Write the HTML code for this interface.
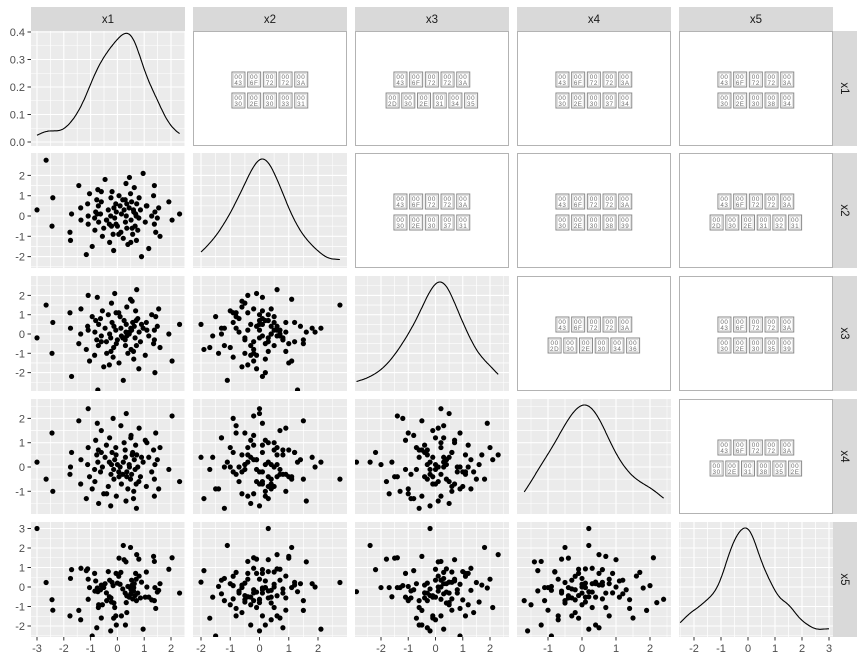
<!DOCTYPE html>
<html><head><meta charset="utf-8"><style>
body{margin:0;background:#fff}
svg{display:block;font-family:"Liberation Sans",sans-serif}
</style></head><body>
<svg id="c" width="865" height="666"></svg>
<script>
const vars=["x1","x2","x3","x4","x5"];
const x1=[-3.0,-2.66,-2.44,-2.41,-1.75,-1.71,-1.77,-1.44,-1.37,-1.36,-1.16,-1.11,-1.09,-1.04,-1.09,-0.94,-0.77,-0.85,-0.81,-0.84,-0.73,-0.7,-0.71,-0.56,-0.6,-0.63,-0.51,-0.46,-0.41,-0.34,-0.29,-0.24,-0.22,-0.25,-0.2,-0.16,-0.13,-0.1,-0.14,-0.06,-0.04,-0.05,0.06,0.13,0.1,0.15,0.22,0.25,0.32,0.3,0.35,0.29,0.33,0.39,0.44,0.49,0.51,0.53,0.57,0.61,0.63,0.66,0.68,0.71,0.72,0.8,0.81,0.76,0.86,0.96,1.04,1.08,1.17,1.28,1.35,1.38,1.4,1.43,1.38,1.49,1.54,1.59,1.92,2.04,2.32,0.45,0.55,0.6,0.5,0.2,-0.3,0.7,-0.6,0.05,1.1,-0.4,0.9,0.35,-0.75,0.0];
const x5=[3.0,0.23,-0.65,-1.19,0.44,0.89,-1.48,-1.2,-1.68,0.96,0.84,0.93,0.4,-0.03,-0.63,-2.51,-2.09,0.7,0.31,-0.21,-0.24,-0.91,-1.05,-0.91,-1.59,-0.14,-0.03,0.17,-0.3,0.79,0.35,-0.56,-0.77,-2.25,0.24,0.07,-0.82,-1.05,-1.6,-1.48,-1.95,0.7,1.48,0.75,0.14,-1.48,2.13,1.4,1.29,-1.95,-1.31,-0.31,-0.8,0.03,-0.52,2.03,-0.14,0.35,-0.61,-0.03,0.17,-0.44,0.7,-0.7,1.66,1.43,0.56,-0.31,-0.56,-2.16,-0.52,0.77,-0.52,-0.66,1.57,1.31,-0.03,-1.1,-0.7,-0.26,-0.17,0.17,0.91,1.5,-0.31,0.0,0.1,-0.2,-0.35,-0.1,-0.5,0.4,0.1,0.55,0.0,-0.7,0.25,-0.45,-0.05,0.2];
const x2=[0.3,2.75,-0.5,0.9,-1.2,0.1,-0.8,1.5,0.4,-0.2,-1.9,0.6,-0.4,1.1,0.0,-1.5,0.8,-0.1,0.2,-0.7,1.3,-0.3,0.5,-1.0,0.7,0.1,-0.6,1.8,-0.2,0.3,-1.3,0.9,-0.5,0.0,1.2,-0.9,0.4,-0.1,-1.7,0.6,0.2,-0.4,1.0,-0.8,0.5,0.1,-1.1,0.3,1.6,-0.3,-0.6,0.8,0.0,-1.4,0.4,1.1,-0.2,0.7,-0.9,0.2,1.4,-0.5,0.1,-1.2,0.6,-0.1,0.9,-0.7,0.3,2.1,-0.3,0.5,-1.6,0.0,1.0,-0.4,0.2,-0.8,1.5,-0.1,0.4,-1.0,0.7,-0.2,0.1,1.9,-0.6,0.3,-1.3,0.8,-0.4,0.0,1.2,-0.9,0.5,-0.2,-2.0,0.6,0.1,-0.5];
const x3=[-0.2,1.5,-1.0,0.6,0.3,-2.2,1.1,-0.5,0.0,1.3,-0.8,0.4,2.0,-1.4,0.2,0.9,-0.3,-1.1,0.7,0.1,-2.9,0.5,-0.6,1.2,-0.1,0.8,-1.7,0.3,-0.4,1.0,0.0,-0.9,1.6,-0.2,0.6,-1.2,0.4,2.1,-0.7,0.2,-0.5,1.1,-1.5,0.3,0.9,-0.1,-2.4,0.7,0.1,-0.6,1.4,-0.3,0.5,-1.0,0.0,1.8,-0.8,0.2,0.6,-1.3,0.4,-0.2,1.2,-0.6,2.3,-1.8,0.1,0.8,-0.4,0.3,-1.1,0.6,-0.1,1.0,-0.5,0.2,-2.0,0.9,-0.3,0.4,1.3,-0.7,0.0,-1.4,0.5,0.1,1.7,-0.9,0.3,-0.2,-1.6,0.7,-0.4,1.1,0.2,-1.0,0.5,-0.1,1.9,-0.3];
const x4=[0.2,-0.5,1.4,-1.0,0.0,0.6,-0.3,1.9,-0.7,0.3,-1.3,0.1,0.8,-0.4,2.4,-0.9,0.5,-0.1,1.1,-0.6,0.2,-1.5,0.7,0.0,1.5,-0.2,-1.1,0.4,0.9,-0.8,1.2,-0.3,0.1,-1.6,0.6,2.0,-0.5,0.3,-0.1,0.8,-1.2,0.5,-0.4,1.7,0.0,-0.7,0.2,1.0,-1.4,0.4,-0.2,0.7,2.2,-0.9,0.1,-0.5,1.3,-0.3,0.6,-1.0,0.3,-0.1,0.9,-1.7,0.5,-0.6,1.6,0.0,-0.4,0.2,1.1,-0.8,0.4,-0.2,0.7,-1.2,0.1,1.4,-0.5,0.3,-0.9,0.8,-0.1,2.1,-0.6,0.0,0.5,-1.3,1.2,-0.3,0.2,-0.7,0.6,-0.2,1.0,-1.1,0.4,-0.4,1.8,0.1];
const corrLabels=[[null,"0.031","-0.145","0.074","0.084"],[null,null,"0.071","0.089","-0.121"],[null,null,null,"-0.046","0.059"],[null,null,null,null,"0.185."]];
const densTicks=[0,0.1,0.2,0.3,0.4];
const xTicks=[[-3,-2,-1,0,1,2],[-2,-1,0,1,2],[-2,-1,0,1,2],[-1,0,1,2],[-2,-1,0,1,2,3]];
const yTicks=[null,[-2,-1,0,1,2],[-2,-1,0,1,2],[-1,0,1,2],[-2,-1,0,1,2,3]];

const data=[x1,x2,x3,x4,x5];
const NS="http://www.w3.org/2000/svg";
const svg=document.getElementById("c");
function el(t,a,p){const e=document.createElementNS(NS,t);for(const k in a)e.setAttribute(k,a[k]);(p||svg).appendChild(e);return e;}
const colX=[31,193,355,517,679],PW=154;
const rowY=[31,153,276,399,522],PH=115;
const xs=[v=>37+(v+3)*26.8,v=>201+(v+2)*29.25,v=>381+(v+2)*27.25,v=>548+(v+1)*34,v=>694+(v+2)*27];
const ys=[v=>142-v*275,v=>216-v*20.3,v=>334-v*19.3,v=>467-v*24.3,v=>587-v*19.5];
function tofu(g,str,cx,y){
  const w=15.7,n=str.length,x0=cx-n*w/2;
  for(let i=0;i<n;i++){
    const hex=str.charCodeAt(i).toString(16).toUpperCase().padStart(2,"0");
    const bx=x0+i*w+1.2;
    el("rect",{x:bx,y:y,width:13,height:15,fill:"none",stroke:"#8a8a8a","stroke-width":1},g);
    el("rect",{x:bx+1.5,y:y+1.5,width:10,height:12,fill:"none",stroke:"#c8c8c8","stroke-width":0.6},g);
    const t1=el("text",{x:bx+6.5,y:y+6.8,"font-size":6.3,"text-anchor":"middle",fill:"#707070","letter-spacing":"0.6"},g);t1.textContent="00";
    const t2=el("text",{x:bx+6.5,y:y+13.2,"font-size":6.3,"text-anchor":"middle",fill:"#707070","letter-spacing":"0.6"},g);t2.textContent=hex;
  }
}
for(let r=0;r<5;r++){
  for(let c=0;c<5;c++){
    const px=colX[c],py=rowY[r];
    const g=el("g",{});
    
    
    if(c>r){
      el("rect",{x:px+0.5,y:py+0.5,width:PW-1,height:PH-1,fill:"#fff",stroke:"#b3b3b3","stroke-width":1},g);
      const cx=px+PW/2,cy=py+PH/2;
      tofu(g,"Corr:",cx,cy-16.5);
      tofu(g,corrLabels[r][c],cx,cy+4.5);
      continue;
    }
    el("rect",{x:px,y:py,width:PW,height:PH,fill:"#ebebeb"},g);
    const clip="cl"+r+c;
    const cp=el("clipPath",{id:clip},g);el("rect",{x:px,y:py,width:PW,height:PH},cp);
    const gi=el("g",{"clip-path":"url(#"+clip+")"},g);
    const yt=r===0?densTicks:yTicks[r];
    const step=r===0?0.1:1;
    for(const t of yt){
      el("line",{x1:px,x2:px+PW,y1:ys[r](t),y2:ys[r](t),stroke:"#fff","stroke-width":1.1},gi);
      el("line",{x1:px,x2:px+PW,y1:ys[r](t+step/2),y2:ys[r](t+step/2),stroke:"#fff","stroke-width":0.5},gi);
      el("line",{x1:px,x2:px+PW,y1:ys[r](t-step/2),y2:ys[r](t-step/2),stroke:"#fff","stroke-width":0.5},gi);
    }
    for(const t of xTicks[c]){
      el("line",{y1:py,y2:py+PH,x1:xs[c](t),x2:xs[c](t),stroke:"#fff","stroke-width":1.1},gi);
      for(const h of [t-0.5,t+0.5]) el("line",{y1:py,y2:py+PH,x1:xs[c](h),x2:xs[c](h),stroke:"#fff","stroke-width":0.5},gi);
    }
    if(r===c){
      const d=data[c],n=d.length;
      const mean=d.reduce((a,b)=>a+b,0)/n;
      const sd=Math.sqrt(d.reduce((a,b)=>a+(b-mean)**2,0)/(n-1));
      const srt=[...d].sort((a,b)=>a-b);
      const iqr=srt[Math.floor(0.75*n)]-srt[Math.floor(0.25*n)];
      const bw=0.9*Math.min(sd,iqr/1.34)*Math.pow(n,-0.2);
      const mn=srt[0],mx=srt[n-1];
      const pts=[];let maxD=0;
      for(let i=0;i<=200;i++){
        const v=mn+(mx-mn)*i/200;let s=0;
        for(const u of d)s+=Math.exp(-0.5*((v-u)/bw)**2);
        s/=n*bw*Math.sqrt(2*Math.PI);pts.push([v,s]);if(s>maxD)maxD=s;
      }
      const top=py+6,bot=py+PH-5;
      const yf=r===0?(s=>ys[0](s)):(s=>bot-(s/maxD)*(bot-top));
      const path=el("path",{d:pts.map((p,i)=>(i?"L":"M")+xs[c](p[0]).toFixed(1)+","+yf(p[1]).toFixed(1)).join(""),fill:"none",stroke:"#000","stroke-width":1.1},gi);
      
      
    }else{
      const dx=data[c],dy=data[r];
      for(let i=0;i<dx.length;i++){
        const p=el("circle",{cx:xs[c](dx[i]),cy:ys[r](dy[i]),r:2.6,fill:"#000"},gi);
        
        
      }
    }
  }
}
for(let c=0;c<5;c++){
  const s=el("rect",{x:colX[c],y:7,width:PW,height:24,fill:"#d9d9d9"});
  
  
  const t=el("text",{x:colX[c]+PW/2,y:23,"font-size":11.5,"text-anchor":"middle",fill:"#1a1a1a"});t.textContent=vars[c];
}
for(let r=0;r<5;r++){
  const s=el("rect",{x:833,y:rowY[r],width:24,height:PH,fill:"#d9d9d9"});
  
  
  const cy=rowY[r]+PH/2;
  const t=el("text",{x:0,y:0,"font-size":11.5,"text-anchor":"middle",fill:"#1a1a1a",transform:`translate(841,${cy}) rotate(90)`});t.textContent=vars[r];
}
for(let r=0;r<5;r++){
  const yt=r===0?densTicks:yTicks[r];
  for(const t of yt){
    const y=ys[r](t);
    el("line",{x1:27.5,x2:31,y1:y,y2:y,stroke:"#333","stroke-width":1});
    const tx=el("text",{x:25,y:y+4,"font-size":11,"text-anchor":"end",fill:"#4d4d4d"});
    
    
    tx.textContent=r===0?t.toFixed(1):String(t);
  }
}
for(let c=0;c<5;c++){
  for(const t of xTicks[c]){
    const x=xs[c](t);
    el("line",{x1:x,x2:x,y1:637,y2:640.5,stroke:"#333","stroke-width":1});
    const tx=el("text",{x:x,y:652,"font-size":11,"text-anchor":"middle",fill:"#4d4d4d"});
    
    
    tx.textContent=String(t);
  }
}
</script>
</body></html>
